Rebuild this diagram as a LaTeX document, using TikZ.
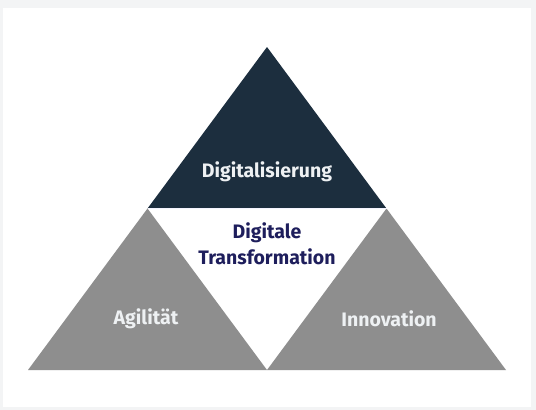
\documentclass[tikz,border=0pt]{standalone}
\usepackage{fontspec}
\setmainfont{Fira Sans}
\definecolor{bgout}{HTML}{F3F4F5}
\definecolor{darktri}{HTML}{1C2E3E}
\definecolor{graytri}{HTML}{8E8E8E}
\definecolor{navy}{HTML}{1E1E5C}
\definecolor{lighttxt}{HTML}{EEF1F3}
\tikzset{
  lbl/.style={font=\fontsize{19.5}{23}\selectfont\bfseries, align=center, inner sep=0pt},
}
\begin{document}
\begin{tikzpicture}[x=1pt,y=-1pt]
\fill[bgout] (0,0) rectangle (536,410);
\fill[white] (3,8) rectangle (531,407);
\useasboundingbox (0,0) rectangle (536,410);
% vertices
\coordinate (A) at (267,47);
\coordinate (L) at (28,370);
\coordinate (R) at (506,370);
\coordinate (M) at (267,370);
\coordinate (ML) at (147.5,208.5);
\coordinate (MR) at (386.5,208.5);
\fill[darktri] (A) -- (MR) -- (ML) -- cycle;
\fill[graytri] (ML) -- (M) -- (L) -- cycle;
\fill[graytri] (MR) -- (R) -- (M) -- cycle;
\draw[white!85!blue!30, line width=0.6pt] (ML) -- (MR);
\node[lbl, text=lighttxt] (dig) at (267,172) {Digitalisierung};
\node[lbl, text=navy] (dt1) at (267,233) {Digitale};
\node[lbl, text=navy] (dt2) at (267,257) {Transformation};
\node[lbl, text=lighttxt] (agi) at (146,319) {Agilität};
\node[lbl, text=lighttxt] (inn) at (389,319) {Innovation};
\end{tikzpicture}
\end{document}
